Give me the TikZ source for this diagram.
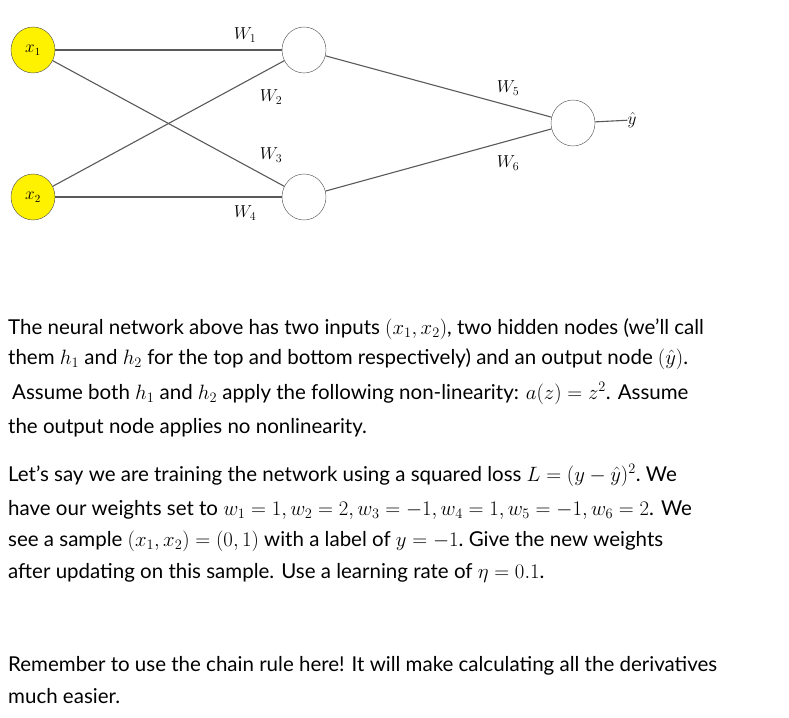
\documentclass[tikz,border=0pt]{standalone}
\usepackage{fontspec}
\setmainfont{Lato}
\usepackage{amsmath}
\usetikzlibrary{shapes.geometric}
\tikzset{>=latex}

\begin{document}
\begin{tikzpicture}[x=1pt, y=-1pt,
  neuron/.style = {ellipse, draw = black!70, inner sep = 0pt, minimum width = 44pt, minimum height = 46pt, font = \fontsize{16}{16}\selectfont},
  link/.style = {draw = black!65, line width = 1.1pt},
  wlabel/.style = {font = \fontsize{17}{17}\selectfont},
  textline/.style = {anchor = base west, inner sep = 0pt, font = \fontsize{20.5}{20.5}\selectfont}]
\useasboundingbox (0, 0) rectangle (789, 717);

\node[neuron, fill = yellow] (x1) at (33, 50) {$x_1$};
\node[neuron, fill = yellow] (x2) at (33, 197) {$x_2$};
\node[neuron] (h1) at (304, 50) {};
\node[neuron] (h2) at (304, 197) {};
\node[neuron] (out) at (573, 123) {};
\node[inner sep = 0pt, font = \fontsize{18}{18}\selectfont] (yhat) at (632, 120) {$\hat{y}$};

\path [link] (x1) -- (h1);
\path [link] (x1) -- (h2);
\path [link] (x2) -- (h1);
\path [link] (x2) -- (h2);
\path [link] (h1) -- (out);
\path [link] (h2) -- (out);
\path [link] (out) -- (yhat);

\node[wlabel] (w1) at (245, 35) {$W_1$};
\node[wlabel] (w2) at (271, 97) {$W_2$};
\node[wlabel] (w3) at (271, 155) {$W_3$};
\node[wlabel] (w4) at (245, 213) {$W_4$};
\node[wlabel] (w5) at (508, 88) {$W_5$};
\node[wlabel] (w6) at (508, 163) {$W_6$};

% problem statement
\node[textline] (t1) at (8, 334) {The neural network above has two inputs $(x_1, x_2)$, two hidden nodes (we'll call};
\node[textline] (t2) at (8, 364) {them $h_1$ and $h_2$ for the top and bottom respectively) and an output node $(\hat{y})$.};
\node[textline] (t3) at (12, 399) {Assume both $h_1$ and $h_2$ apply the following non-linearity: $a(z) = z^2$. Assume};
\node[textline] (t4) at (8, 433) {the output node applies no nonlinearity.};
\node[textline] (t5) at (8, 481) {Let's say we are training the network using a squared loss $L = (y - \hat{y})^2$.\ We};
\node[textline] (t6) at (8, 515) {have our weights set to $w_1 = 1, w_2 = 2, w_3 = -1, w_4 = 1, w_5 = -1, w_6 = 2$. We};
\node[textline] (t7) at (8, 546) {see a sample $(x_1, x_2) = (0, 1)$ with a label of $y = -1$.\ Give the new weights};
\node[textline] (t8) at (8, 578) {after updating on this sample. Use a learning rate of $\eta = 0.1$.};
\node[textline] (t9) at (8, 671) {Remember to use the chain rule here! It will make calculating all the derivatives};
\node[textline] (t10) at (8, 703) {much easier.};
\end{tikzpicture}
\end{document}
